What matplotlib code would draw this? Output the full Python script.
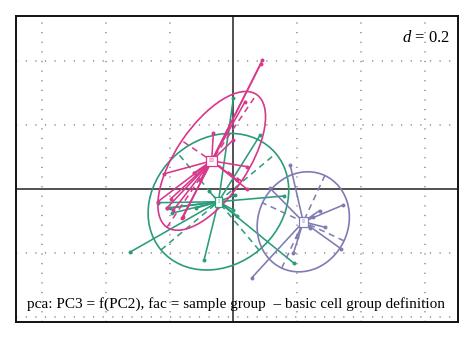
import numpy as np
import matplotlib.pyplot as plt
from matplotlib.patches import Ellipse

plt.rcParams['font.family'] = ['Liberation Serif', 'DejaVu Serif']
plt.rcParams['mathtext.fontset'] = 'custom'
plt.rcParams['mathtext.it'] = 'Liberation Serif:italic'
plt.rcParams['mathtext.rm'] = 'Liberation Serif'

# scores on PC2 (x) and PC3 (y), one list per sample group
groupe = ['I', 'III', 'II']
couleurs = ['#2b9c7a', '#d8378c', '#7f7bb3']

pts_x = [
    [-0.324, -0.092, 0.190, 0.159, 0.000, 0.084, -0.235, -0.075, 0.005, 0.011,
     -0.117, -0.198, -0.209, -0.193, 0.000],
    [0.091, 0.086, 0.037, 0.000, -0.063, 0.042, 0.042, 0.011, -0.219, -0.237,
     -0.209, -0.188, -0.162, -0.157, -0.125, -0.104, -0.195],
    [0.178, 0.115, 0.345, 0.270, 0.287, 0.338, 0.188, 0.058, 0.199, 0.251, 0.240],
]
pts_y = [
    [-0.198, -0.223, -0.233, -0.022, 0.284, 0.169, -0.043, -0.008, -0.019, -0.084,
     -0.060, -0.060, -0.060, -0.076, -0.066],
    [0.404, 0.392, 0.274, 0.154, 0.175, 0.070, 0.000, 0.028, 0.047, -0.040,
     -0.060, -0.066, -0.092, -0.087, 0.049, 0.028, -0.030],
    [0.075, 0.002, -0.050, -0.068, -0.120, -0.188, -0.202, -0.278, -0.150, -0.087, -0.123],
]

# group centres and ellipse parameters (semi-axes, angle in degrees)
centri_x = [-0.047, -0.068, 0.219]
centri_y = [-0.040, 0.088, -0.103]
semi_a = [0.235, 0.251, 0.160]
semi_b = [0.198, 0.113, 0.141]
angoli = [40, 56, 65]

d = 0.2
xlim = (-0.680, 0.704)
ylim = (-0.417, 0.542)

fig = plt.figure(figsize=(4.74, 3.38), dpi=100)
ax = fig.add_axes([0.0348, 0.0473, 0.9314, 0.9054])
ax.set_xlim(*xlim)
ax.set_ylim(*ylim)

# dotted grid every d
for gx in np.arange(-3, 4) * d:
    if abs(gx) > 1e-9:
        ax.axvline(gx, color='#8a8a8a', lw=1.1, ls=(0, (0.8, 5.5)), zorder=0)
for gy in np.arange(-2, 3) * d:
    if abs(gy) > 1e-9:
        ax.axhline(gy, color='#8a8a8a', lw=1.1, ls=(0, (0.8, 5.5)), zorder=0)
ax.axvline(0, color='#222222', lw=1.1, zorder=1)
ax.axhline(0, color='#222222', lw=1.1, zorder=1)

for i, col in enumerate(couleurs):
    cx, cy = centri_x[i], centri_y[i]
    xs, ys = np.array(pts_x[i]), np.array(pts_y[i])
    # star lines from centre to each sample
    for x, y in zip(xs, ys):
        ax.plot([cx, x], [cy, y], color=col, lw=1.15, zorder=2)
    ax.scatter(xs, ys, s=8, color=col, zorder=3, linewidths=0)
    # ellipse and its two axes
    ell = Ellipse((cx, cy), 2 * semi_a[i], 2 * semi_b[i], angle=angoli[i],
                  fill=False, edgecolor=col, lw=1.2, zorder=2)
    ax.add_patch(ell)
    t = np.radians(angoli[i])
    for r, th in [(semi_a[i], t), (semi_b[i], t + np.pi / 2)]:
        dx, dy = r * np.cos(th), r * np.sin(th)
        ax.plot([cx - dx, cx + dx], [cy - dy, cy + dy], color=col, lw=1.1,
                ls=(0, (4, 3)), zorder=2)
    ax.text(cx, cy, groupe[i], fontsize=4.5, color=col, ha='center', va='center',
            zorder=4, bbox=dict(boxstyle='square,pad=0.4', fc='white', ec=col, lw=0.9))

ax.text(0.982, 0.955, r'$d$ = 0.2', transform=ax.transAxes, ha='right', va='top',
        fontsize=12)
ax.text(0.497, 0.035, 'pca: PC3 = f(PC2), fac = sample group  \u2013 basic cell group definition',
        transform=ax.transAxes, ha='center', va='bottom', fontsize=11)

ax.set_xticks([])
ax.set_yticks([])
for sp in ax.spines.values():
    sp.set_linewidth(1.4)
    sp.set_color('#111111')

fig.savefig('out.png', dpi=100)
